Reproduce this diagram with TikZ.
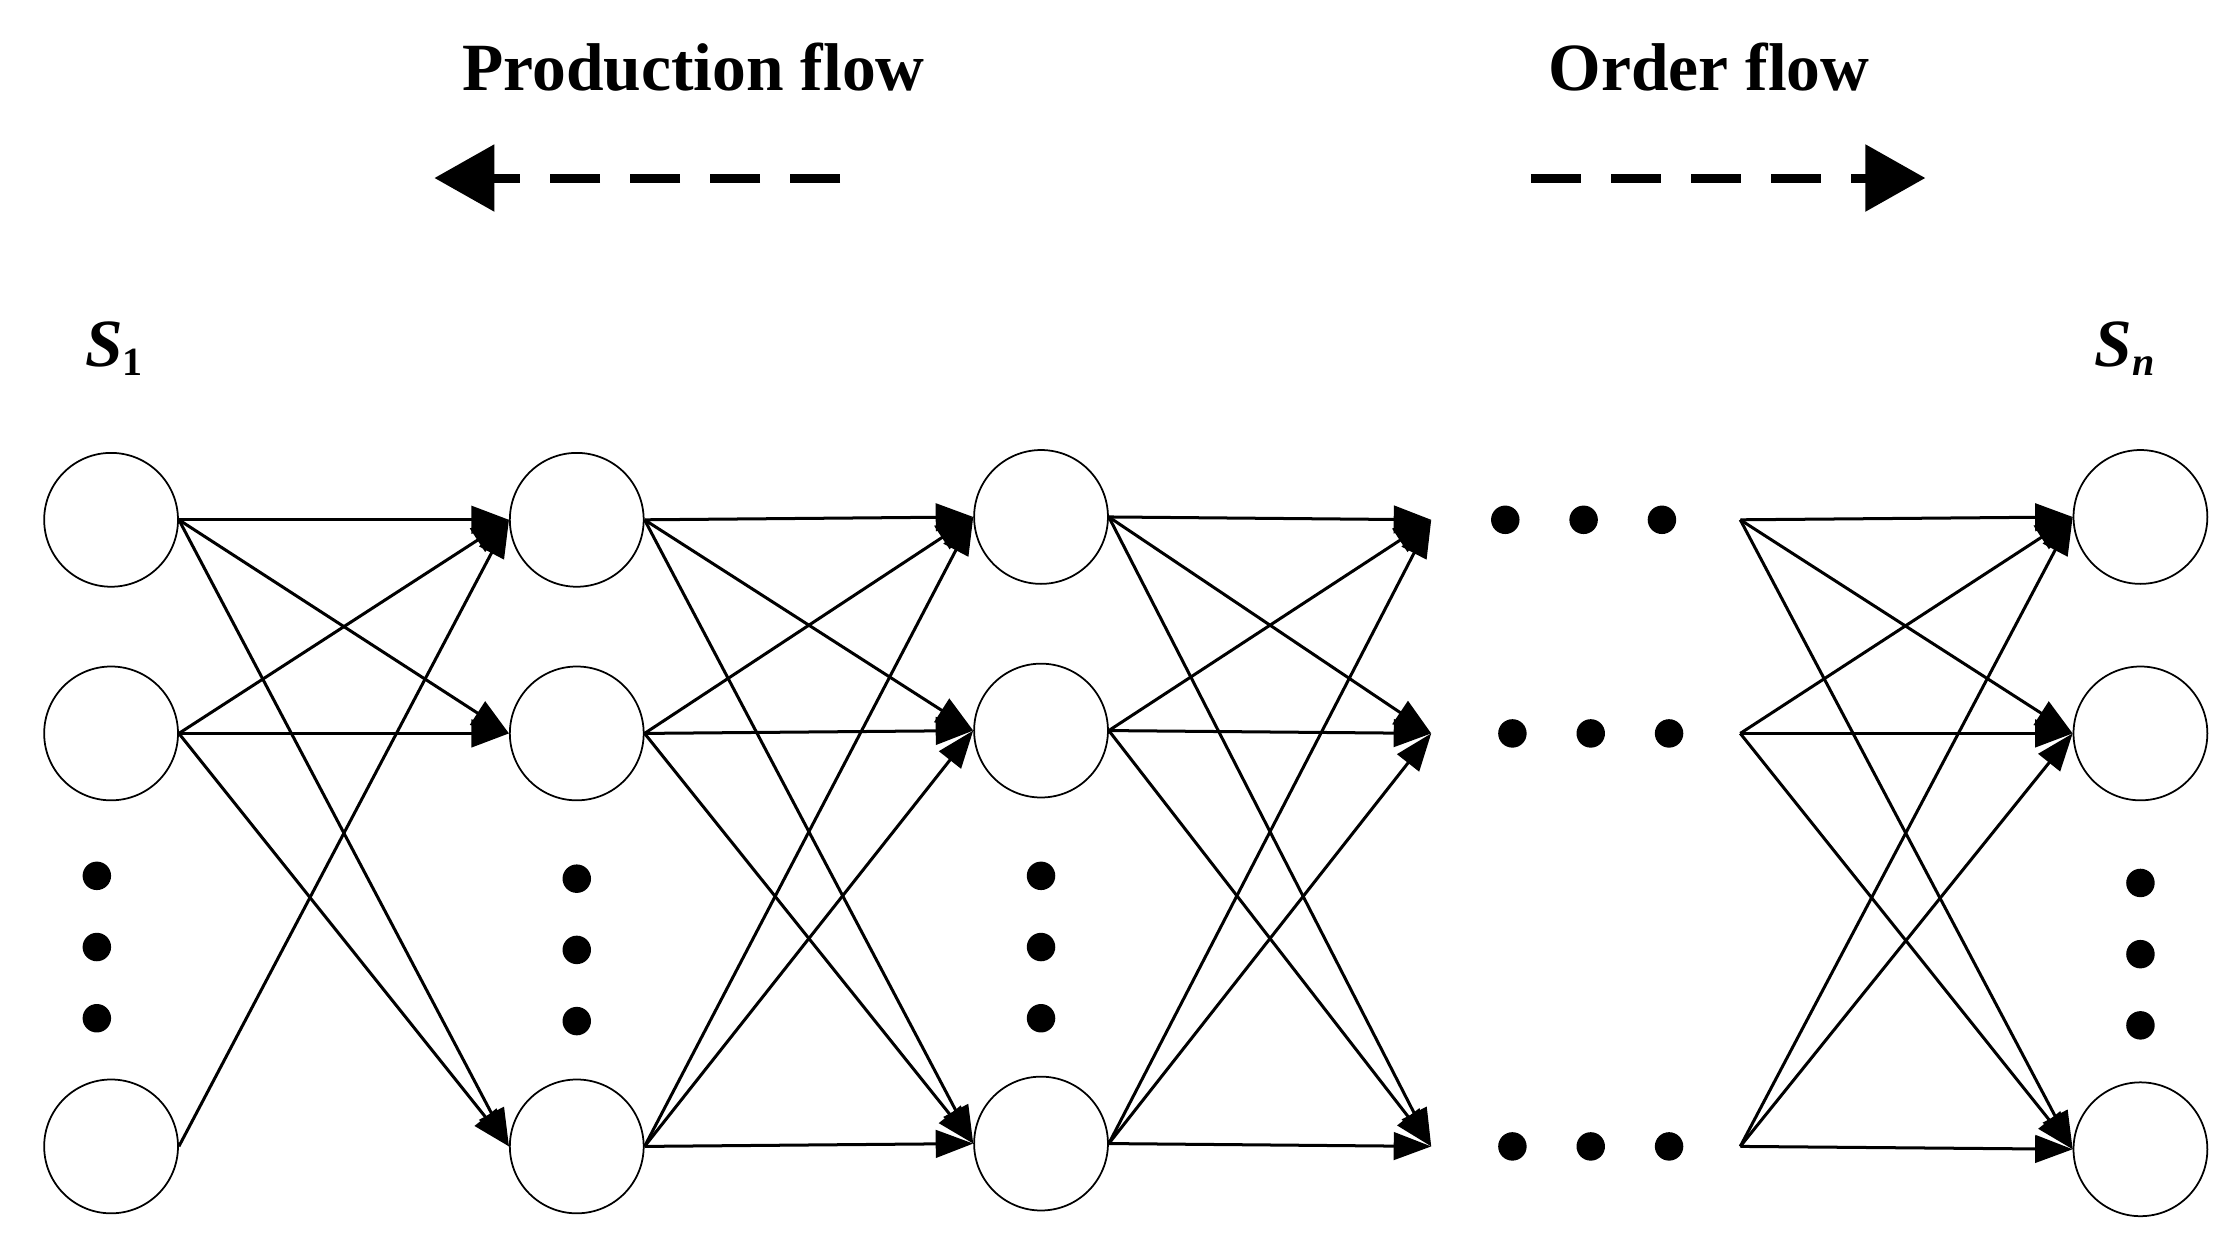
\documentclass[tikz,border=0pt]{standalone}
\usepackage{fontspec}
\setmainfont{Liberation Serif}
\usetikzlibrary{arrows.meta}
\begin{document}
\begin{tikzpicture}[x=0.02cm,y=-0.02cm,
  nd/.style={circle,draw,line width=0.7pt,minimum size=1.88cm,inner sep=0pt,fill=white},
  ed/.style={line width=1.2pt,-{Triangle[length=15pt,width=11pt]}},
  dot/.style={circle,fill=black,inner sep=0pt,minimum size=0.4cm},
  fl/.style={line width=3.6pt,dash pattern=on 20pt off 12pt,-{Triangle[length=24pt,width=26pt]}},
  ttl/.style={font=\bfseries\fontsize{27}{30}\selectfont}]
\useasboundingbox (0,0) rectangle (1568,875);
\foreach \n/\x/\ya/\yb/\yc in {a/78/365/515/805, b/405/365/515/805, c/731/363/513/803, e/1503/363/515/807}{
  \node[nd] (\n1) at (\x,\ya) {};
  \node[nd] (\n2) at (\x,\yb) {};
  \node[nd] (\n3) at (\x,\yc) {};
}
\foreach \x/\y in {68/615,68/665,68/715,405/617,405/667,405/717,731/615,731/665,731/715,1503/620,1503/670,1503/720,
  1057/365,1112/365,1167/365,1062/515,1117/515,1172/515,1062/805,1117/805,1172/805}
  \node[dot] (d\x-\y) at (\x,\y) {};
\coordinate (m1) at (1005,365); \coordinate (m2) at (1005,515); \coordinate (m3) at (1005,805);
\coordinate (k1) at (1222,365); \coordinate (k2) at (1222,515); \coordinate (k3) at (1222,805);
\foreach \i in {1,2}\foreach \j in {1,2,3} \draw[ed] (a\i.east) -- (b\j.west);
\draw[ed] (a3.east) -- (b1.west);
\foreach \i in {1,2,3}\foreach \j in {1,2,3}{
  \draw[ed] (b\i.east) -- (c\j.west);
  \draw[ed] (c\i.east) -- (m\j);
  \draw[ed] (k\i) -- (e\j.west);
}
\node[ttl] (t1) at (487,47) {Production flow};
\node[ttl] (t2) at (1200,47) {Order flow};
\coordinate (p1) at (590,125); \coordinate (p2) at (305,125);
\coordinate (o1) at (1075,125); \coordinate (o2) at (1352,125);
\draw[fl] (p1) -- (p2);
\draw[fl] (o1) -- (o2);
\node[font=\bfseries\itshape\fontsize{27}{30}\selectfont] (s1) at (80,245) {S\raisebox{-0.3ex}{\upshape\fontsize{16}{18}\selectfont 1}};
\node[font=\bfseries\itshape\fontsize{27}{30}\selectfont] (sn) at (1492,245) {S\raisebox{-0.3ex}{\fontsize{16}{18}\selectfont n}};
\end{tikzpicture}
\end{document}
